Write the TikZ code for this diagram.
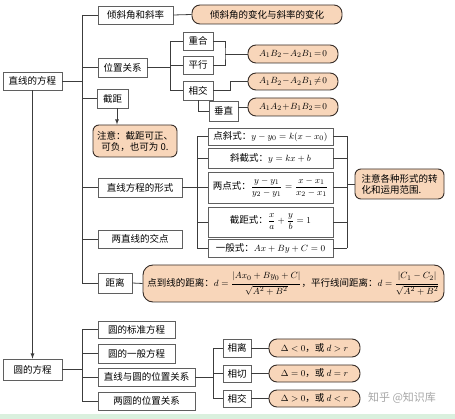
\documentclass[tikz,border=0pt]{standalone}
\usepackage{fontspec}
\usepackage{amsmath}
\setmainfont{Noto Sans CJK SC}
\usetikzlibrary{calc}
\definecolor{peach}{RGB}{248,214,186}
\definecolor{ovalline}{RGB}{55,45,40}
\definecolor{boxline}{RGB}{95,95,95}
\definecolor{conn}{RGB}{60,60,60}
\definecolor{strip}{RGB}{218,240,222}
\tikzset{
  base/.style={font=\fontsize{9.5}{11}\selectfont, inner sep=1pt, anchor=center},
  bx/.style={base, draw=boxline, line width=0.7pt, fill=white},
  ov/.style={base, draw=ovalline, line width=0.9pt, fill=peach, rounded corners=8pt},
  nt/.style={base, draw=ovalline, line width=0.9pt, fill=peach, rounded corners=6pt},
  ln/.style={draw=conn, line width=0.8pt},
}
\newcommand{\myfr}[2]{\dfrac{\raisebox{1.5pt}{$#1$}}{\raisebox{-2pt}{$#2$}}}
\begin{document}
\begin{tikzpicture}[x=1pt,y=-1pt]
\useasboundingbox (0,0) rectangle (455,419);
\fill[strip] (0,414) rectangle (455,419);

% level 0
\node[bx, minimum width=59, minimum height=18] (L) at (32.5,81) {直线的方程};
\node[bx, minimum width=59, minimum height=21] (C) at (32.5,369.5) {圆的方程};

% level 1 (line)
\node[bx, minimum width=75, minimum height=18] (a1) at (135.5,15) {倾斜角和斜率};
\node[bx, minimum width=49, minimum height=19] (a2) at (122.5,67.5) {位置关系};
\node[bx, minimum width=31, minimum height=19] (a3) at (112.5,98.5) {截距};
\node[nt, minimum width=84, minimum height=32, align=center] (a3n) at (135,141) {注意：截距可正、\\可负，也可为 0.};
\node[bx, minimum width=84, minimum height=19] (a4) at (140,187.5) {直线方程的形式};
\node[bx, minimum width=84, minimum height=18] (a5) at (140,239) {两直线的交点};
\node[bx, minimum width=34, minimum height=20] (a6) at (115,283) {距离};

% position relations
\node[bx, minimum width=30, minimum height=18] (p1) at (198,41) {重合};
\node[bx, minimum width=30, minimum height=18] (p2) at (198,65) {平行};
\node[bx, minimum width=30, minimum height=19] (p3) at (198,90.5) {相交};
\node[bx, minimum width=29, minimum height=20] (p4) at (223.5,111) {垂直};

\node[ov, minimum width=150, minimum height=19] (o0) at (267,14.5) {倾斜角的变化与斜率的变化};
\node[ov, minimum width=90, minimum height=18] (o1) at (293,54) {$A_1B_2\!-\!A_2B_1\!=\!0$};
\node[ov, minimum width=90, minimum height=17] (o2) at (293,81.5) {$A_1B_2\!-\!A_2B_1\!\neq\!0$};
\node[ov, minimum width=90, minimum height=18] (o3) at (293,107) {$A_1A_2\!+\!B_1B_2\!=\!0$};

% forms
\node[bx, minimum width=125, minimum height=17] (f1) at (270.5,136.5) {点斜式：$y-y_0=k(x-x_0)$};
\node[bx, minimum width=125, minimum height=20] (f2) at (270.5,158) {斜截式：$y=kx+b$};
\node[bx, minimum width=125, minimum height=31] (f3) at (270.5,187.5) {两点式：$\dfrac{y-y_1}{y_2-y_1}=\dfrac{x-x_1}{x_2-x_1}$};
\node[bx, minimum width=125, minimum height=30] (f4) at (270.5,222) {截距式：$\dfrac{x}{a}+\dfrac{y}{b}=1$};
\node[bx, minimum width=125, minimum height=18] (f5) at (270.5,248) {一般式：$Ax+By+C=0$};
\node[nt, minimum width=89, minimum height=30, align=left] (fn) at (399.5,184) {注意各种形式的转\\化和运用范围.};

% distance
\node[ov, minimum width=301, minimum height=37, rounded corners=10pt] (dn) at (293.5,283.5)
  {点到线的距离：$d=\myfr{|Ax_0+By_0+C|}{\sqrt{A^2+B^2}}$，平行线间距离：$d=\myfr{|C_1-C_2|}{\sqrt{A^2+B^2}}$};

% circle
\node[bx, minimum width=77, minimum height=17] (c1) at (136.5,329.5) {圆的标准方程};
\node[bx, minimum width=77, minimum height=19] (c2) at (136.5,353.5) {圆的一般方程};
\node[bx, minimum width=97, minimum height=18] (c3) at (146.5,377) {直线与圆的位置关系};
\node[bx, minimum width=97, minimum height=18] (c4) at (146.5,401) {两圆的位置关系};

\node[bx, minimum width=28, minimum height=18] (r1) at (237,348) {相离};
\node[bx, minimum width=28, minimum height=17] (r2) at (237,373.5) {相切};
\node[bx, minimum width=28, minimum height=17] (r3) at (237,398.5) {相交};
\node[ov, minimum width=91, minimum height=18] (q1) at (314.5,348) {$\Delta<0$，或 $d>r$};
\node[ov, minimum width=91, minimum height=17] (q2) at (314.5,373.5) {$\Delta=0$，或 $d=r$};
\node[ov, minimum width=91, minimum height=17] (q3) at (314.5,398.5) {$\Delta>0$，或 $d<r$};

\node[base, text=black!35, font=\fontsize{11}{12}\selectfont] (wm) at (402,398) {知乎 @知识库};

% connectors: main trunk
\coordinate (tA) at (82,15);
\coordinate (tB) at (82,283);
\draw[ln] (tA) -- (tB);
\draw[ln] (L.east) -- (L.east -| tA);
\foreach \n in {a1,a2,a3,a4,a5,a6} \draw[ln] (\n.west) -- (\n.west -| tA);
\draw[ln,-latex] (L.south) -- (C.north);
\draw[ln,-latex] (a3.south -| 117,0) -- (a3n.north -| 117,0);
\draw[ln] (a1.east) -- (o0.west);

% position relations
\coordinate (pA) at (170,41);
\coordinate (pB) at (170,90.5);
\draw[ln] (pA) -- (pB);
\draw[ln] (a2.east) -- (a2.east -| pA);
\foreach \n in {p1,p2,p3} \draw[ln] (\n.west) -- (\n.west -| pA);
\coordinate (bk) at (225,54);
\draw[ln] (p1.east) -| (bk) |- (p2.east);
\draw[ln] (bk) -- (o1.west);
\draw[ln] (p3.east) -- ++(17,0) |- (o2.west);
\draw[ln] (p3.south) |- (p4.west);
\draw[ln] (o3.west) -- (o3.west -| p4.east);

% forms
\coordinate (fA) at (197,136.5);
\coordinate (fB) at (197,248);
\draw[ln] (fA) -- (fB);
\draw[ln] (a4.east) -- (a4.east -| fA);
\foreach \n in {f1,f2,f3,f4,f5} \draw[ln] (\n.west) -- (\n.west -| fA);
\coordinate (gA) at (347,136.5);
\coordinate (gB) at (347,248);
\draw[ln] (gA) -- (gB);
\foreach \n in {f1,f2,f3,f4,f5} \draw[ln] (\n.east) -- (\n.east -| gA);
\draw[ln] (fn.west) -- (fn.west -| gA);

\draw[ln] (a6.east) -- (dn.west);

% circle
\coordinate (cA) at (82,329.5);
\coordinate (cB) at (82,401);
\draw[ln] (cA) -- (cB);
\draw[ln] (C.east) -- (C.east -| cA);
\foreach \n in {c1,c2,c3,c4} \draw[ln] (\n.west) -- (\n.west -| cA);
\coordinate (rA) at (213,348);
\coordinate (rB) at (213,398.5);
\draw[ln] (rA) -- (rB);
\draw[ln] (c3.east) -- (c3.east -| rA);
\foreach \n in {r1,r2,r3} \draw[ln] (\n.west) -- (\n.west -| rA);
\draw[ln] (r1.east) -- (q1.west);
\draw[ln] (r2.east) -- (q2.west);
\draw[ln] (r3.east) -- (q3.west);
\end{tikzpicture}
\end{document}
